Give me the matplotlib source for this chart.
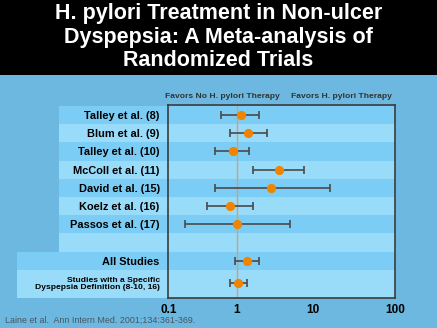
import matplotlib
matplotlib.use("Agg")
import matplotlib.pyplot as plt
from matplotlib.patches import Rectangle

# Study names, odds ratios and confidence limits
studies = ["Talley et al. (8)", "Blum et al. (9)", "Talley et al. (10)",
           "McColl et al. (11)", "David et al. (15)", "Koelz et al. (16)",
           "Passos et al. (17)", "All Studies",
           "Studies with a Specific\nDyspepsia Definition (8-10, 16)"]
rows = [0, 1, 2, 3, 4, 5, 6, 8, 9.2]
odds = [1.13, 1.39, 0.89, 3.57, 2.81, 0.82, 1.0, 1.36, 1.04]
lower = [0.62, 0.82, 0.52, 1.62, 0.52, 0.41, 0.21, 0.94, 0.82]
upper = [1.98, 2.51, 1.44, 7.65, 16.7, 1.65, 4.97, 1.98, 1.38]
tick_labels = ["0.1", "1", "10", "100"]

plt.rcParams['font.family'] = ['Liberation Sans', 'DejaVu Sans']

fig = plt.figure(figsize=(4.37, 3.28), dpi=100)
fig.patch.set_facecolor('#6cb8e0')

# black header with the title
fig.patches.append(Rectangle((0, 1 - 75 / 328), 1, 75 / 328, transform=fig.transFigure,
                             facecolor='black', zorder=0))
fig.text(0.5, 1 - 37 / 328, "H. pylori Treatment in Non-ulcer\nDyspepsia: A Meta-analysis of\nRandomized Trials",
         ha='center', va='center', color='white', fontsize=15.5, fontweight='bold', linespacing=1.14)

ax = fig.add_axes([168 / 437, 1 - 298 / 328, 227 / 437, 193 / 328])
ax.set_facecolor('none')
ax.set_xscale('log')
xlo, xhi = 0.126, 118
ax.set_xlim(xlo, xhi)
ax.set_ylim(10.05, -0.55)

# alternating row bands, stretching left under the labels
dark, light = '#7ccdf5', '#99dcfa'
bands = [(i - 0.5, i + 0.5) for i in range(9)] + [(8.5, 10.05)]
for i, (y0, y1) in enumerate(bands):
    left = -0.665 if i >= 8 else -0.48  # summary rows reach further left
    col = dark if i % 2 == 0 else light
    ax.add_patch(Rectangle((left, y0), 1 - left, y1 - y0, transform=ax.get_yaxis_transform(),
                           facecolor=col, edgecolor='none', clip_on=False, zorder=0))

ax.axvline(1, color='#c9a27f', lw=1, zorder=1)

err = [[o - l for o, l in zip(odds, lower)], [u - o for o, u in zip(odds, upper)]]
ax.errorbar(odds, rows, xerr=err, fmt='none', ecolor='#4a4a4a', elinewidth=1.2,
            capsize=2.6, capthick=1.2, zorder=2)
ax.plot(odds, rows, 'o', color='#f08400', markersize=5.6, zorder=3)

for s in ax.spines.values():
    s.set_color('#3c3c3c')
    s.set_linewidth(1.2)

ax.set_xticks([xlo + 0.004, 1, 10, xhi], tick_labels)
ax.minorticks_off()
ax.tick_params(axis='x', length=0, pad=4, labelsize=8.5)
for t in ax.get_xticklabels():
    t.set_fontweight('bold')

ax.set_yticks(rows, studies)
ax.tick_params(axis='y', length=0, pad=6, labelsize=7.9)
for t in ax.get_yticklabels():
    t.set_fontweight('bold')
ax.get_yticklabels()[-1].set_fontsize(6.1)
ax.get_yticklabels()[-1].set_linespacing(1.1)

fig.text(222 / 437, 1 - 97 / 328, "Favors No H. pylori Therapy",
         ha='center', va='center', fontsize=6.1, fontweight='bold', color='#333333')
fig.text(341 / 437, 1 - 97 / 328, "Favors H. pylori Therapy",
         ha='center', va='center', fontsize=6.1, fontweight='bold', color='#333333')

fig.text(5 / 437, 1 - 320 / 328, "Laine et al.  Ann Intern Med. 2001;134:361-369.",
         ha='left', va='center', fontsize=6.4, color='#4a5560')

fig.savefig("out.png", dpi=100, facecolor=fig.get_facecolor())
